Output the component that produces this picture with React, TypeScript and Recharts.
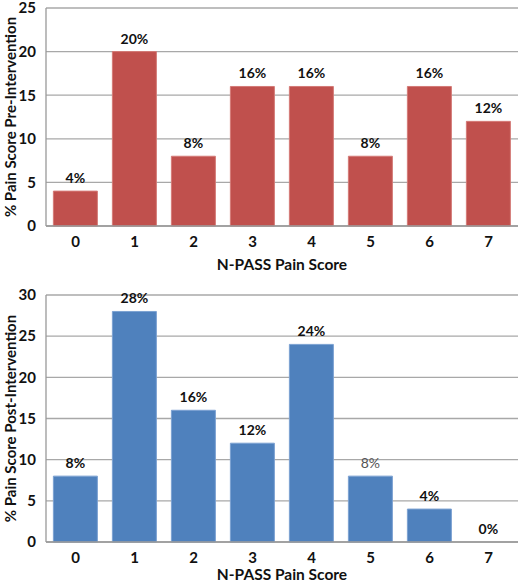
import { BarChart, Bar, XAxis, YAxis, CartesianGrid, Rectangle } from 'recharts'

// N-PASS pain scores 0..7
const painScores = ['0', '1', '2', '3', '4', '5', '6', '7']
const preIntervention = [4, 20, 8, 16, 16, 8, 16, 12]
const postIntervention = [8, 28, 16, 12, 24, 8, 4, 0]
const preTicks = [0, 5, 10, 15, 20, 25]
const postTicks = [0, 5, 10, 15, 20, 25, 30]
// in the original the "8%" above score 5 (post) is not bold
const postPlainLabel = 5

const preData = painScores.map((s, i) => ({ score: s, value: preIntervention[i] }))
const postData = painScores.map((s, i) => ({ score: s, value: postIntervention[i] }))

const FONT = 'Lato, "Open Sans", sans-serif'
const tickStyle = { fill: '#111', fontSize: 15, fontWeight: 700, fontFamily: FONT }

function YTitle({ viewBox, text }: any) {
  const cy = viewBox.y + viewBox.height / 2
  return (
    <text
      x={10} y={cy} transform={`rotate(-90 10 ${cy})`}
      textAnchor="middle" dominantBaseline="central"
      style={{ fontSize: 15, fontWeight: 700, fontFamily: FONT, fill: '#111' }}
    >
      {text}
    </text>
  )
}

function makeValueLabel(plainIndex: number) {
  return (props: any) => {
    const { x, y, width, height, value, index } = props
    const plain = index === plainIndex
    const topY = Math.min(y, y + (height || 0))
    return (
      <text
        x={x + width / 2} y={topY - 8} textAnchor="middle"
        style={{
          fontSize: 14, fontFamily: FONT,
          fontWeight: plain ? 400 : 700, fill: plain ? '#555' : '#111',
        }}
      >
        {`${value}%`}
      </text>
    )
  }
}

// zero bars get a hair of height so their label still shows, but are not painted
const barShape = (props: any) =>
  props.value === 0 ? <g /> : <Rectangle {...props} />

function PainChart({ data, ticks, max, color, edge, yTitle, height, top, xHeight, titleOffset, plainIndex }: any) {
  return (
    <BarChart
      width={520} height={height} data={data}
      margin={{ top, right: 2, left: 0, bottom: 0 }}
      barCategoryGap="12.5%"
    >
      <CartesianGrid vertical={false} stroke="#a8a8a8" strokeWidth={1.3} />
      <XAxis
        dataKey="score" tick={tickStyle} tickLine={false} tickSize={8}
        axisLine={{ stroke: '#999', strokeWidth: 1.3 }} height={xHeight}
        label={{
          value: 'N-PASS Pain Score', position: 'insideBottom', offset: titleOffset,
          style: { fontSize: 15.5, fontWeight: 700, fontFamily: FONT, fill: '#111' },
        }}
      />
      <YAxis
        domain={[0, max]} ticks={ticks} width={46} interval={0}
        tick={tickStyle} tickLine={false} tickSize={8}
        axisLine={{ stroke: '#999', strokeWidth: 1.3 }}
        label={<YTitle text={yTitle} />}
      />
      <Bar
        dataKey="value" fill={color} stroke={edge} strokeWidth={1}
        minPointSize={(v: number) => (v === 0 ? 0.01 : 0)}
        shape={barShape}
        isAnimationActive={false} label={makeValueLabel(plainIndex)}
      />
    </BarChart>
  )
}

export default function App() {
  return (
    <div style={{ position: 'absolute', left: 0, top: 0, width: 520, height: 582, background: '#fff' }}>
      <PainChart
        data={preData} ticks={preTicks} max={25} color="#c0504d" edge="#d47a77"
        yTitle="% Pain Score Pre-Intervention" height={280} top={8} xHeight={54}
        titleOffset={10} plainIndex={-1}
      />
      <PainChart
        data={postData} ticks={postTicks} max={30} color="#4f81bd" edge="#7ca1d2"
        yTitle="% Pain Score Post-Intervention" height={302} top={15} xHeight={40}
        titleOffset={2} plainIndex={postPlainLabel}
      />
    </div>
  )
}
